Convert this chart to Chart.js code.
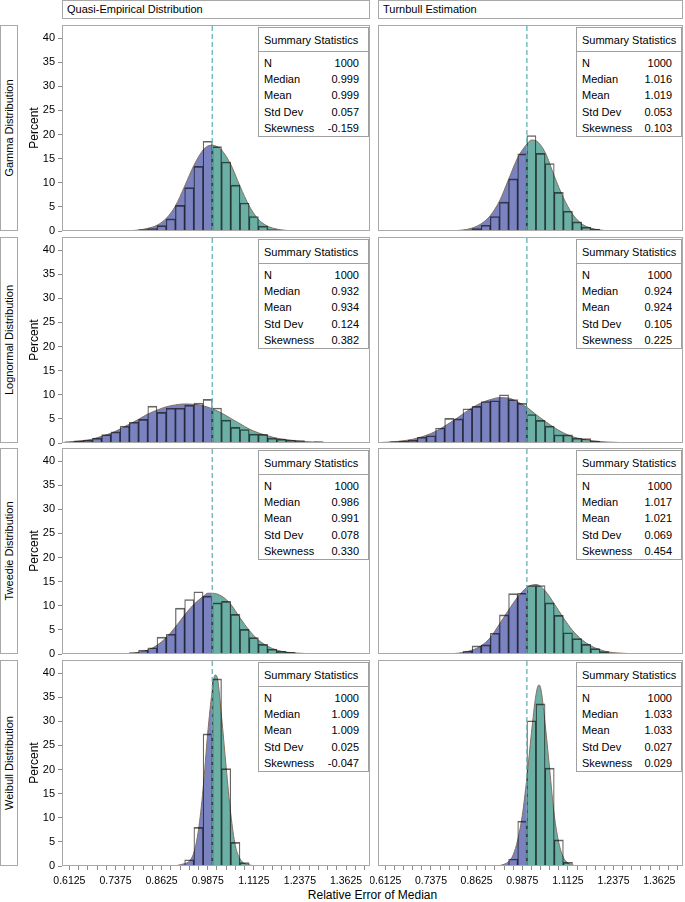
<!DOCTYPE html>
<html><head><meta charset="utf-8">
<script src="https://cdn.jsdelivr.net/npm/chart.js@4.4.1/dist/chart.umd.min.js"></script>
<style>
html,body{margin:0;padding:0;background:#fff;}
body{width:685px;height:902px;position:relative;overflow:hidden;font-family:"Liberation Sans",Arial,sans-serif;color:#000;}
canvas{position:absolute;}
.colhdr{position:absolute;box-sizing:border-box;border:1px solid #a8a8a8;font-size:11px;line-height:17px;padding-left:4px;white-space:nowrap;}
.rowhdr{position:absolute;box-sizing:border-box;border:1px solid #a8a8a8;}
.rowhdr span{position:absolute;left:50%;top:50%;transform:translate(-50%,-50%) rotate(-90deg);white-space:nowrap;font-size:11px;}
.stats{position:absolute;box-sizing:border-box;border:1px solid #a0a0a0;background:#fff;font-size:11px;}
.stats .h{height:23px;line-height:24px;border-bottom:1px solid #a0a0a0;padding-left:5px;white-space:nowrap;}
.stats .rows{padding-top:2.6px;}
.stats .r{height:16.4px;line-height:16.4px;display:flex;justify-content:space-between;padding:0 9px 0 5px;}
.xtitle{position:absolute;font-size:12px;white-space:nowrap;transform:translate(-50%,-50%);}
</style>
</head><body>
<script>
// ---------- data ----------
const colTitles = ["Quasi-Empirical Distribution", "Turnbull Estimation"];
const rowTitles = ["Gamma Distribution", "Lognormal Distribution", "Tweedie Distribution", "Weibull Distribution"];
const xAxisTitle = "Relative Error of Median";
const yAxisTitle = "Percent";
const statLabels = ["N", "Median", "Mean", "Std Dev", "Skewness"];

const binMids = [0.6125,0.6375,0.6625,0.6875,0.7125,0.7375,0.7625,0.7875,0.8125,0.8375,0.8625,0.8875,0.9125,0.9375,0.9625,0.9875,1.0125,1.0375,1.0625,1.0875,1.1125,1.1375,1.1625,1.1875,1.2125,1.2375,1.2625,1.2875,1.3125,1.3375,1.3625,1.3875,1.4125];
const xTickLabels = ["0.6125","0.7375","0.8625","0.9875","1.1125","1.2375","1.3625"];
const yTickValues = [0,5,10,15,20,25,30,35,40];
const refLineX = 1.0;

// histograms (percent per bin, aligned with binMids)
const gammaQuasiHist = [0,0,0,0,0,0,0,0.1,0.3,0.5,1.1,2.5,5.3,9.0,13.4,18.6,17.5,14.3,9.5,5.8,3.0,1.0,0.3,0.1,0,0,0,0,0,0,0,0,0];
const gammaTurnHist = [0,0,0,0,0,0,0,0,0,0.2,0.5,1.2,3.0,6.0,10.8,16.0,19.8,16.1,14.0,8.0,4.1,1.9,0.8,0.4,0.1,0,0,0,0,0,0,0,0];
const logQuasiHist = [0.25,0.45,0.6,1.0,1.75,2.3,3.5,4.3,4.9,7.65,6.35,7.2,7.2,7.85,8.25,9.05,7.25,4.75,3.25,2.8,1.85,1.8,1.0,0.8,0.6,0.5,0.1,0.3,0.1,0.1,0.1,0.05,0.05];
const logTurnHist = [0.1,0.3,0.4,0.6,1.2,1.5,3.1,5.1,5.0,7.1,7.6,8.6,8.75,10.0,9.0,8.2,5.9,4.7,3.5,1.7,1.7,1.0,0.9,0.4,0.15,0.2,0.1,0.1,0.05,0,0,0,0];
const tweedieQuasiHist = [0,0,0,0,0,0,0.07,0.3,0.8,1.3,3.5,4.1,9.5,11.3,12.9,12.0,10.6,10.9,8.2,5.1,3.4,2.0,1.0,0.55,0.35,0.2,0,0,0,0,0,0,0];
const tweedieTurnHist = [0,0,0,0,0,0,0,0,0.15,0.6,1.7,1.9,4.3,8.1,12.5,12.6,14.2,14.2,10.6,8.0,4.4,3.2,2.0,1.1,0.5,0.15,0.2,0,0,0,0,0,0];
const weibullQuasiHist = [0,0,0,0,0,0,0,0,0,0,0,0,0.05,1.3,8.0,27.4,38.8,20.2,4.9,0.7,0,0,0,0,0,0,0,0,0,0,0,0,0];
const weibullTurnHist = [0,0,0,0,0,0,0,0,0,0,0,0,0,0,1.45,9.3,30.1,33.6,20.3,5.4,0.75,0.05,0,0,0,0,0,0,0,0,0,0,0];

// density curves (x positions and percent values)
const gammaQuasiDensX = [0.75,0.775,0.8,0.825,0.85,0.875,0.9,0.925,0.95,0.975,0.9875,1.0,1.0125,1.025,1.05,1.075,1.1,1.125,1.15,1.175,1.2,1.225];
const gammaQuasiDensY = [0.02,0.07,0.2,0.55,1.2,2.6,5.2,9.3,13.6,16.8,17.6,17.8,17.5,16.8,13.8,9.3,5.2,2.4,1.0,0.4,0.12,0.03];
const gammaTurnDensX = [0.8,0.825,0.85,0.875,0.9,0.925,0.95,0.975,1.0,1.0125,1.025,1.05,1.075,1.1,1.125,1.15,1.175,1.2,1.225,1.25];
const gammaTurnDensY = [0.06,0.2,0.6,1.5,3.2,6.2,10.7,15.2,18.0,18.85,18.7,16.3,11.4,6.9,3.5,1.5,0.6,0.2,0.06,0.02];
const logQuasiDensX = [0.6,0.625,0.65,0.675,0.7,0.725,0.75,0.775,0.8,0.825,0.85,0.875,0.9,0.925,0.95,0.975,1.0,1.025,1.05,1.075,1.1,1.125,1.15,1.175,1.2,1.225,1.25,1.275,1.3,1.325,1.35,1.375,1.4,1.425];
const logQuasiDensY = [0.15,0.3,0.5,0.8,1.4,2.0,2.9,3.9,4.9,6.0,6.8,7.5,7.9,8.1,8.0,7.7,7.1,6.2,5.1,4.0,2.9,2.1,1.5,1.0,0.7,0.45,0.3,0.2,0.12,0.08,0.05,0.03,0.02,0.01];
const logTurnDensX = [0.6,0.625,0.65,0.675,0.7,0.725,0.75,0.775,0.8,0.825,0.85,0.875,0.9,0.925,0.95,0.975,1.0,1.025,1.05,1.075,1.1,1.125,1.15,1.175,1.2,1.225,1.25,1.275,1.3,1.325];
const logTurnDensY = [0.1,0.2,0.35,0.6,1.0,1.6,2.4,3.5,4.7,6.0,7.3,8.3,9.0,9.4,9.3,8.5,7.4,5.9,4.5,3.2,2.1,1.3,0.8,0.5,0.3,0.17,0.1,0.05,0.03,0.02];
const tweedieQuasiDensX = [0.75,0.775,0.8,0.825,0.85,0.875,0.9,0.925,0.95,0.975,0.9875,1.0,1.025,1.05,1.075,1.1,1.125,1.15,1.175,1.2,1.225,1.25,1.275];
const tweedieQuasiDensY = [0.03,0.1,0.35,0.8,1.8,3.4,5.6,8.1,10.3,11.9,12.6,12.6,12.0,10.3,7.5,4.9,2.9,1.6,0.8,0.4,0.2,0.1,0.04];
const tweedieTurnDensX = [0.775,0.8,0.825,0.85,0.875,0.9,0.925,0.95,0.975,1.0,1.025,1.05,1.075,1.1,1.125,1.15,1.175,1.2,1.225,1.25,1.275,1.3];
const tweedieTurnDensY = [0.03,0.1,0.3,0.8,1.7,3.4,6.2,9.1,11.8,13.8,14.4,13.1,10.4,7.5,4.9,3.0,1.7,0.9,0.4,0.2,0.08,0.03];
const weibullQuasiDensX = [0.9,0.925,0.9375,0.95,0.9625,0.975,0.9875,1.0,1.0075,1.0125,1.025,1.0375,1.05,1.0625,1.075,1.0875,1.1,1.125];
const weibullQuasiDensY = [0.05,0.5,1.0,2.8,7.5,16.0,27.5,36.5,39.6,39.3,31.0,20.5,10.8,4.2,1.5,0.5,0.2,0.02];
const weibullTurnDensX = [0.925,0.95,0.9625,0.975,0.9875,1.0,1.0125,1.025,1.0325,1.0375,1.05,1.0625,1.075,1.0875,1.1,1.1125,1.125,1.15];
const weibullTurnDensY = [0.05,0.9,2.3,5.4,10.5,18.2,27.5,35.5,37.5,37.0,29.5,20.0,10.6,4.8,1.8,0.6,0.15,0.01];

// summary statistics
const gammaQuasiStats = ["1000","0.999","0.999","0.057","-0.159"];
const gammaTurnStats = ["1000","1.016","1.019","0.053","0.103"];
const logQuasiStats = ["1000","0.932","0.934","0.124","0.382"];
const logTurnStats = ["1000","0.924","0.924","0.105","0.225"];
const tweedieQuasiStats = ["1000","0.986","0.991","0.078","0.330"];
const tweedieTurnStats = ["1000","1.017","1.021","0.069","0.454"];
const weibullQuasiStats = ["1000","1.009","1.009","0.025","-0.047"];
const weibullTurnStats = ["1000","1.033","1.033","0.027","0.029"];

// ---------- layout / style ----------
const X_MIN = 0.5925, X_MAX = 1.4275, Y_MAX = 42.7;
const plotLeft = [62, 378], plotWidth = [308, 305];
const plotTop = [25, 237, 448, 660], plotHeight = 206;
const yAxisW = [42, 8];
const BLUE = '#7a82bf', GREEN = '#6cafa5';
const FONT = '"Liberation Sans", Arial, sans-serif';

const panels = [
  [gammaQuasiHist, gammaQuasiDensX, gammaQuasiDensY, gammaQuasiStats],
  [gammaTurnHist, gammaTurnDensX, gammaTurnDensY, gammaTurnStats],
  [logQuasiHist, logQuasiDensX, logQuasiDensY, logQuasiStats],
  [logTurnHist, logTurnDensX, logTurnDensY, logTurnStats],
  [tweedieQuasiHist, tweedieQuasiDensX, tweedieQuasiDensY, tweedieQuasiStats],
  [tweedieTurnHist, tweedieTurnDensX, tweedieTurnDensY, tweedieTurnStats],
  [weibullQuasiHist, weibullQuasiDensX, weibullQuasiDensY, weibullQuasiStats],
  [weibullTurnHist, weibullTurnDensX, weibullTurnDensY, weibullTurnStats]
];

const framePlugin = {
  id: 'frame',
  afterDatasetsDraw(chart) {
    const {ctx, chartArea: a} = chart;
    ctx.save();
    ctx.strokeStyle = '#a8a8a8';
    ctx.lineWidth = 1;
    ctx.strokeRect(a.left + 0.5, a.top + 0.5, a.right - a.left - 1, a.bottom - a.top - 1);
    ctx.restore();
  }
};

function el(tag, cls, style, text) {
  const e = document.createElement(tag);
  if (cls) e.className = cls;
  Object.assign(e.style, style || {});
  if (text !== undefined) e.textContent = text;
  document.body.appendChild(e);
  return e;
}

// headers
colTitles.forEach((t, c) => {
  el('div', 'colhdr', {left: plotLeft[c] + 'px', top: '0px', width: plotWidth[c] + 'px', height: '19px'}, t);
});
rowTitles.forEach((t, r) => {
  const d = el('div', 'rowhdr', {left: '0px', top: plotTop[r] + 'px', width: '18px', height: plotHeight + 'px'});
  const s = document.createElement('span'); s.textContent = t; d.appendChild(s);
});
el('div', 'xtitle', {left: ((plotLeft[0] + plotLeft[1] + plotWidth[1]) / 2) + 'px', top: '895px'}, xAxisTitle);

Chart.defaults.font.family = FONT;
Chart.defaults.color = '#000';

panels.forEach((p, idx) => {
  const r = Math.floor(idx / 2), c = idx % 2;
  const [hist, dx, dy, stats] = p;
  const bottomRow = r === 3;
  const padTop = 10, padBottom = bottomRow ? 0 : 10, xAxisH = 36;
  const cv = document.createElement('canvas');
  const cw = yAxisW[c] + plotWidth[c];
  const ch = padTop + plotHeight + (bottomRow ? xAxisH : padBottom);
  cv.width = cw; cv.height = ch;
  cv.style.width = cw + 'px'; cv.style.height = ch + 'px';
  cv.style.left = (plotLeft[c] - yAxisW[c]) + 'px';
  cv.style.top = (plotTop[r] - padTop) + 'px';
  document.body.appendChild(cv);

  new Chart(cv, {
    type: 'bar',
    data: {
      datasets: [
        {
          type: 'line',
          data: dx.map((x, i) => ({x: x, y: dy[i]})),
          borderColor: '#85705f',
          borderWidth: 1,
          pointRadius: 0,
          cubicInterpolationMode: 'monotone',
          fill: 'origin',
          backgroundColor: BLUE,
          segment: { backgroundColor: ctx => (ctx.p0.parsed.x >= refLineX - 1e-9 ? GREEN : BLUE) },
          order: 3
        },
        {
          type: 'bar',
          data: binMids.map((x, i) => ({x: x, y: hist[i]})),
          backgroundColor: 'rgba(0,0,0,0)',
          borderColor: 'rgba(0,0,0,0.6)',
          borderWidth: {top: 1, left: 0.6, right: 0.6, bottom: 0},
          borderSkipped: false,
          barPercentage: 1,
          categoryPercentage: 1,
          order: 2
        },
        {
          type: 'line',
          data: [{x: refLineX, y: 0}, {x: refLineX, y: Y_MAX}],
          borderColor: 'rgba(95,175,175,0.85)',
          borderWidth: 1.5,
          borderDash: [5, 3],
          pointRadius: 0,
          fill: false,
          order: 1
        }
      ]
    },
    options: {
      responsive: false,
      animation: false,
      events: [],
      layout: {padding: {top: padTop, bottom: padBottom, left: c === 0 ? 0 : yAxisW[c], right: 0}},
      plugins: {legend: {display: false}, tooltip: {enabled: false}},
      scales: {
        x: {
          type: 'linear',
          min: X_MIN, max: X_MAX,
          offset: false,
          display: bottomRow,
          grid: {display: true, offset: false, drawOnChartArea: false, drawTicks: true, tickLength: 4, tickColor: '#8c8c8c'},
          border: {display: false},
          ticks: {
            autoSkip: false, maxRotation: 0, minRotation: 0, padding: 5,
            font: {size: 10.5, family: FONT}, color: '#000',
            callback: v => { const s = Number(v).toFixed(4); return xTickLabels.includes(s) ? s : ''; }
          },
          afterBuildTicks: s => { s.ticks = binMids.map(v => ({value: v})); },
          afterFit: s => { if (bottomRow) { s.height = xAxisH; } s.paddingLeft = 0; s.paddingRight = 0; }
        },
        y: {
          type: 'linear',
          min: 0, max: Y_MAX,
          display: c === 0,
          grid: {display: true, drawOnChartArea: false, drawTicks: true, tickLength: 4, tickColor: '#8c8c8c'},
          border: {display: false},
          ticks: {padding: 3, font: {size: 11, family: FONT}, color: '#000'},
          afterBuildTicks: s => { s.ticks = yTickValues.map(v => ({value: v})); },
          title: {display: true, text: yAxisTitle, font: {size: 12, family: FONT}, color: '#000', padding: {top: 7, bottom: 0}},
          afterFit: s => { if (c === 0) { s.width = yAxisW[c]; } s.paddingTop = 0; s.paddingBottom = 0; }
        }
      }
    },
    plugins: [framePlugin]
  });

  // summary statistics inset
  const boxW = c === 0 ? 111 : 106;
  const box = el('div', 'stats', {
    left: (plotLeft[c] + plotWidth[c] - boxW - 1) + 'px',
    top: (plotTop[r] + 2) + 'px',
    width: boxW + 'px', height: '110px'
  });
  const h = document.createElement('div'); h.className = 'h'; h.textContent = 'Summary Statistics'; box.appendChild(h);
  const rows = document.createElement('div'); rows.className = 'rows'; box.appendChild(rows);
  statLabels.forEach((lab, i) => {
    const rr = document.createElement('div'); rr.className = 'r';
    const a = document.createElement('span'); a.textContent = lab;
    const b = document.createElement('span'); b.textContent = stats[i];
    rr.appendChild(a); rr.appendChild(b); rows.appendChild(rr);
  });
});
</script>
</body></html>
